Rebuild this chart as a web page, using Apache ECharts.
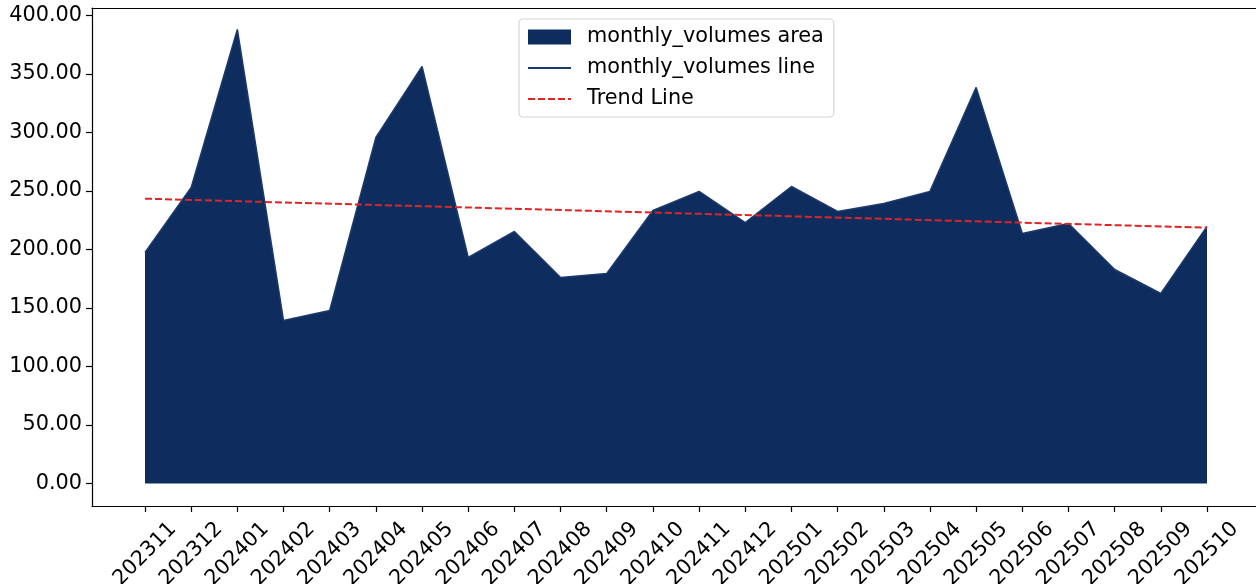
<!DOCTYPE html>
<html>
<head>
<meta charset="utf-8">
<script src="https://cdn.jsdelivr.net/npm/echarts@6/dist/echarts.min.js"></script>
<style>
html,body{margin:0;padding:0;background:#fff;}
#chart{width:1256px;height:584px;}
</style>
</head>
<body>
<div id="chart"></div>
<script>
const months = ['202311','202312','202401','202402','202403','202404','202405','202406','202407','202408','202409','202410','202411','202412','202501','202502','202503','202504','202505','202506','202507','202508','202509','202510'];
const monthlyVolumes = [197.4,253.0,388.0,139.3,147.9,295.7,356.4,193.2,215.4,176.0,179.5,233.3,249.6,223.0,253.8,232.5,239.3,249.6,338.5,213.7,222.2,182.9,162.4,219.7];
const trendStart = 243.4;
const trendEnd = 218.6;
const yTicks = [0,50,100,150,200,250,300,350,400];

const volData = monthlyVolumes.map((v,i)=>[i,v]);
const trendData = [[0,trendStart],[months.length-1,trendEnd]];
const xTickVals = months.map((m,i)=>i);
const font = 'DejaVu Sans';
const fs = 20.8;
const hiddenSymbol = {color:'rgba(0,0,0,0)',borderWidth:0,opacity:0};

const chart = echarts.init(document.getElementById('chart'), null, {renderer:'canvas'});
chart.setOption({
  animation:false,
  backgroundColor:'#fff',
  grid:{left:92,right:0,top:8,bottom:78,show:false,containLabel:false,outerBoundsMode:'none'},
  legend:{
    orient:'vertical',
    left:519, top:19,
    padding:[6,10,6,8],
    itemWidth:43, itemHeight:15,
    itemGap:7,
    backgroundColor:'#fff',
    borderColor:'#d6d6d6', borderWidth:1.2, borderRadius:4,
    textStyle:{fontFamily:font,fontSize:fs,color:'#000',lineHeight:24,padding:[0,0,0,11]},
    data:[
      {name:'monthly_volumes area',icon:'rect'},
      {name:'monthly_volumes line',itemStyle:hiddenSymbol},
      {name:'Trend Line',itemStyle:hiddenSymbol}
    ]
  },
  xAxis:[{
    type:'value', min:-1.148, max:24.061,
    axisLine:{onZero:false,lineStyle:{color:'#000',width:1.2}},
    axisTick:{show:true,length:6,lineStyle:{color:'#000',width:1.2},customValues:xTickVals},
    axisLabel:{color:'#000',fontFamily:font,fontSize:fs,rotate:45,margin:48,
      align:'center',verticalAlign:'middle',hideOverlap:false,
      customValues:xTickVals,
      formatter:(v)=>months[Math.round(v)]},
    splitLine:{show:false}
  },{
    type:'value', position:'top', min:-1.148, max:24.061,
    axisLine:{show:true,onZero:false,lineStyle:{color:'#000',width:1.2}},
    axisTick:{show:false}, axisLabel:{show:false}, splitLine:{show:false}
  }],
  yAxis:{
    type:'value', min:-19.2, max:406.3,
    axisLine:{show:true,onZero:false,lineStyle:{color:'#000',width:1.2}},
    axisTick:{show:true,length:6,lineStyle:{color:'#000',width:1.2},customValues:yTicks},
    axisLabel:{color:'#000',fontFamily:font,fontSize:fs,margin:10,
      customValues:yTicks,
      formatter:(v)=>v.toFixed(2)},
    splitLine:{show:false}
  },
  series:[
    {
      name:'monthly_volumes area', type:'line', data:volData,
      symbol:'none', lineStyle:{width:0,color:'#0e2d5e'},
      itemStyle:{color:'#0e2d5e'},
      areaStyle:{color:'#0e2d5e',opacity:1,origin:0},
      z:1
    },
    {
      name:'monthly_volumes line', type:'line', data:volData,
      symbol:'none', lineStyle:{width:1.5,color:'#1c3a6b'},
      itemStyle:{color:'#1c3a6b'},
      z:2
    },
    {
      name:'Trend Line', type:'line', data:trendData,
      symbol:'none', lineStyle:{width:2,color:'#e02424',type:[7,3]},
      itemStyle:{color:'#e02424'},
      z:3
    }
  ]
});
</script>
</body>
</html>
